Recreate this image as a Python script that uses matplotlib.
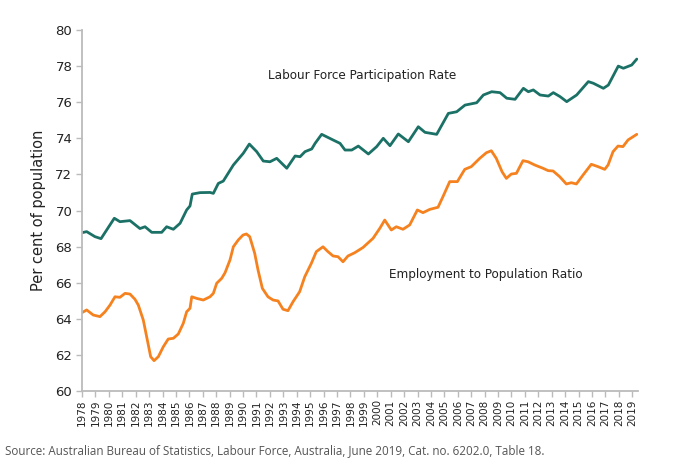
import matplotlib
matplotlib.use("Agg")
import matplotlib.pyplot as plt
import numpy as np

# Labour Force Participation Rate (teal)
lfpr_t = [1978.08, 1978.43, 1979.05, 1979.50, 1979.92, 1980.49, 1980.91, 1981.66, 1982.40, 1982.78,
          1983.28, 1984.02, 1984.39, 1984.89, 1985.39, 1985.88, 1986.13, 1986.30, 1986.88, 1987.62,
          1987.87, 1988.24, 1988.61, 1989.36, 1990.10, 1990.55, 1991.10, 1991.59, 1992.09, 1992.59,
          1993.34, 1993.96, 1994.33, 1994.70, 1995.20, 1995.45, 1995.94, 1996.81, 1997.31, 1997.68,
          1998.18, 1998.67, 1999.42, 2000.04, 2000.53, 2001.03, 2001.65, 2002.40, 2003.14, 2003.64,
          2004.51, 2005.38, 2006.00, 2006.62, 2007.49, 2007.99, 2008.61, 2009.23, 2009.73, 2010.35,
          2010.97, 2011.34, 2011.71, 2012.21, 2012.83, 2013.20, 2013.70, 2014.20, 2014.94, 2015.81,
          2016.18, 2016.93, 2017.30, 2018.04, 2018.42, 2019.04, 2019.42]
lfpr_v = [68.77, 68.83, 68.55, 68.44, 68.92, 69.57, 69.38, 69.44, 69.00, 69.10,
          68.79, 68.79, 69.10, 68.96, 69.29, 70.03, 70.25, 70.91, 70.99, 71.00,
          70.95, 71.50, 71.63, 72.52, 73.17, 73.68, 73.26, 72.74, 72.70, 72.89,
          72.34, 73.02, 72.98, 73.26, 73.41, 73.72, 74.22, 73.90, 73.72, 73.35,
          73.35, 73.57, 73.13, 73.54, 74.00, 73.59, 74.24, 73.81, 74.64, 74.33,
          74.22, 75.38, 75.47, 75.84, 75.97, 76.40, 76.58, 76.53, 76.22, 76.16,
          76.77, 76.58, 76.68, 76.40, 76.34, 76.53, 76.31, 76.03, 76.40, 77.14,
          77.05, 76.77, 76.95, 78.00, 77.88, 78.06, 78.39]

# Employment to Population Ratio (orange)
epr_t = [1978.08, 1978.43, 1978.92, 1979.42, 1979.80, 1980.17, 1980.54, 1980.91, 1981.29, 1981.66,
         1982.03, 1982.28, 1982.65, 1982.90, 1983.20, 1983.45, 1983.77, 1984.14, 1984.51, 1984.89,
         1985.26, 1985.63, 1985.88, 1986.13, 1986.26, 1986.63, 1987.12, 1987.62, 1987.87, 1988.12,
         1988.49, 1988.74, 1989.11, 1989.36, 1989.73, 1990.08, 1990.33, 1990.58, 1990.95, 1991.20,
         1991.52, 1991.94, 1992.32, 1992.69, 1993.06, 1993.43, 1993.81, 1994.30, 1994.68, 1995.17,
         1995.54, 1996.04, 1996.41, 1996.79, 1997.16, 1997.53, 1997.90, 1998.40, 1999.02, 1999.77,
         2000.27, 2000.64, 2001.13, 2001.50, 2002.00, 2002.50, 2003.07, 2003.49, 2003.99, 2004.61,
         2004.98, 2005.48, 2006.05, 2006.60, 2007.09, 2007.72, 2008.21, 2008.58, 2008.95, 2009.38,
         2009.70, 2010.07, 2010.45, 2010.94, 2011.32, 2011.82, 2012.43, 2012.81, 2013.18, 2013.68,
         2014.17, 2014.54, 2014.92, 2015.42, 2016.03, 2016.53, 2017.03, 2017.28, 2017.65, 2018.02,
         2018.39, 2018.77, 2019.42]
epr_v = [64.34, 64.49, 64.21, 64.12, 64.39, 64.76, 65.22, 65.19, 65.41, 65.37,
         65.08, 64.76, 63.93, 63.01, 61.90, 61.68, 61.90, 62.45, 62.88, 62.92,
         63.16, 63.75, 64.39, 64.58, 65.22, 65.13, 65.04, 65.22, 65.41, 65.97,
         66.24, 66.55, 67.26, 67.99, 68.37, 68.64, 68.70, 68.55, 67.63, 66.70,
         65.69, 65.22, 65.04, 64.99, 64.53, 64.45, 64.95, 65.50, 66.33, 67.07,
         67.72, 67.99, 67.72, 67.48, 67.44, 67.16, 67.48, 67.66, 67.95, 68.46,
         69.01, 69.47, 68.92, 69.10, 68.96, 69.20, 70.03, 69.88, 70.06, 70.18,
         70.77, 71.60, 71.60, 72.28, 72.43, 72.89, 73.20, 73.31, 72.89, 72.15,
         71.78, 72.02, 72.06, 72.76, 72.70, 72.52, 72.34, 72.21, 72.19, 71.87,
         71.47, 71.54, 71.47, 71.97, 72.56, 72.43, 72.28, 72.52, 73.26, 73.57,
         73.54, 73.91, 74.22]

years = list(range(1978, 2020))
yticks = [60, 62, 64, 66, 68, 70, 72, 74, 76, 78, 80]

teal = "#1b7166"
orange = "#f5821f"

fig = plt.figure(figsize=(6.8, 4.72), dpi=100)
ax = fig.add_axes([82/680, 1-391/472, (638-82)/680, (391-30)/472])

ax.plot(lfpr_t, lfpr_v, color=teal, lw=2.0, solid_joinstyle="round", solid_capstyle="round")
ax.plot(epr_t, epr_v, color=orange, lw=2.0, solid_joinstyle="round", solid_capstyle="round")

ax.set_xlim(1978.083, 2019.51)
ax.set_ylim(60, 80)
ax.set_yticks(yticks)
ax.set_yticklabels([str(v) for v in yticks], fontsize=9.5, color="#222222")
ax.set_xticks([y + 1/12 for y in years])
ax.set_xticklabels([str(y) for y in years], rotation=90, fontsize=7.5, color="#222222")

for s in ["top", "right"]:
    ax.spines[s].set_visible(False)
for s in ["left", "bottom"]:
    ax.spines[s].set_color("#bbbbbb")
    ax.spines[s].set_linewidth(1.3)
ax.tick_params(axis="both", direction="out", length=4, color="#bbbbbb", width=1)
ax.tick_params(axis="y", pad=3)
ax.tick_params(axis="x", pad=2)

ax.set_ylabel("Per cent of population", fontsize=10.5, color="#222222", labelpad=7)

lab_font = ["DejaVu Sans"]
ax.text(0.5035, 0.875, "Labour Force Participation Rate", transform=ax.transAxes,
        ha="center", va="center", fontsize=9.6, color="#222222", family=lab_font,
        stretch="condensed")
ax.text(0.726, 0.322, "Employment to Population Ratio", transform=ax.transAxes,
        ha="center", va="center", fontsize=9.6, color="#222222", family=lab_font,
        stretch="condensed")

fig.text(5/680, 1-451/472, "Source: Australian Bureau of Statistics, Labour Force, Australia, June 2019, Cat. no. 6202.0, Table 18.",
         ha="left", va="center", fontsize=8.4, color="#555555", family=["Open Sans", "DejaVu Sans"])

fig.savefig("out.png", dpi=100)
